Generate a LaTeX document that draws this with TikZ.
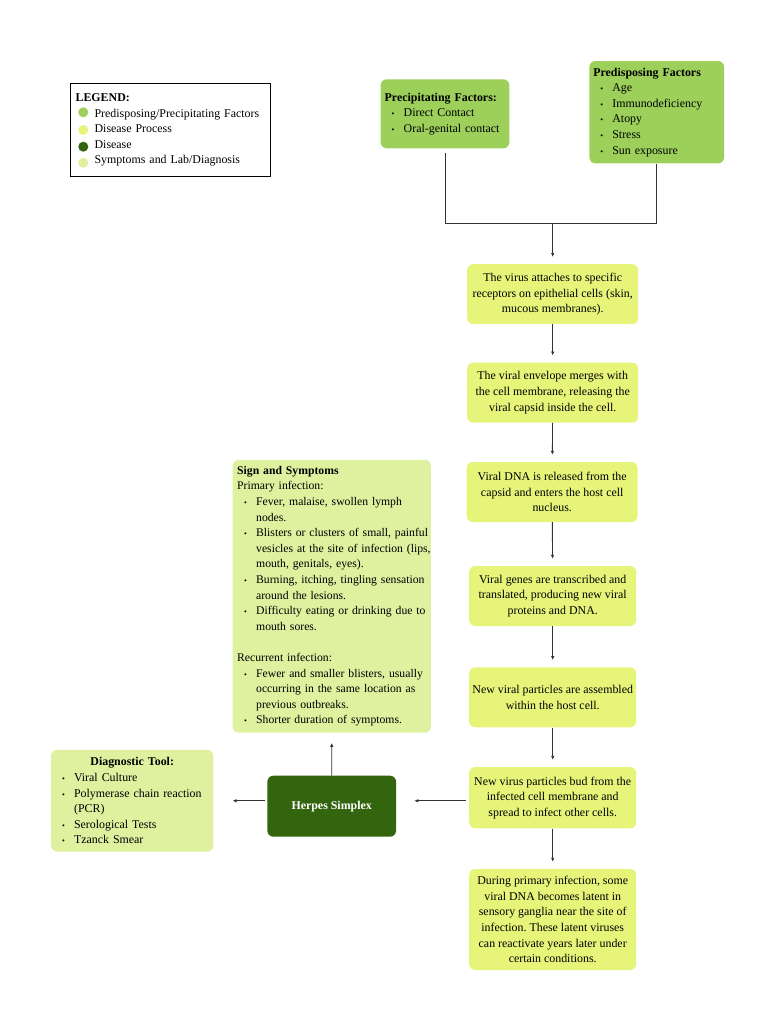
\documentclass[tikz,border=0pt]{standalone}
\usepackage{fontspec}
\setmainfont{Liberation Serif}
\usetikzlibrary{arrows.meta}
\setlength{\parindent}{0pt}
\frenchspacing
\definecolor{factgreen}{RGB}{157,207,91}
\definecolor{procyellow}{RGB}{230,245,122}
\definecolor{symgreen}{RGB}{223,240,158}
\definecolor{hsvgreen}{RGB}{51,100,14}
\newcommand{\boxfont}{\fontsize{11.9}{15.6}\selectfont}
\newcommand{\bulletmark}{{\fontsize{8}{8}\selectfont\textbullet}}
\newcommand{\bitem}[1]{\par\hangindent=19pt\hangafter=1\noindent\hspace*{7pt}\makebox[12pt][l]{\bulletmark}#1}
\newcommand{\legitem}[1]{\par\noindent\hspace*{19pt}#1}
\newcommand{\keeplines}{\rightskip=0pt plus 1fil minus 40pt\relax\hyphenpenalty=10000\relax}

\begin{document}
\begin{tikzpicture}[x=1pt,y=-1pt,
  box/.style={rounded corners=6pt,inner sep=0pt,font=\boxfont},
  procbox/.style={box,fill=procyellow,align=center,minimum width=167pt,minimum height=60pt},
  listbox/.style={box,align=left,inner xsep=4pt},
  legdot/.style={circle,inner sep=0pt,minimum size=10pt},
  link/.style={line width=0.9pt,draw=black!80},
  flow/.style={link,-{Latex[length=4pt,width=3.5pt]},shorten >=7pt}]
% page
\fill[white] (0,0) rectangle (768,1024);
\useasboundingbox (0,0) rectangle (768,1024);

% Legende
\node[listbox,draw=black,line width=1pt,rounded corners=0pt,inner xsep=5.3pt,
      text width=189.4pt,minimum height=93.4pt] (legend) at (170.3,130) {%
  \textbf{LEGEND:}
  \legitem{Predisposing/Precipitating Factors}
  \legitem{Disease Process}
  \legitem{Disease}
  \legitem{Symptoms and Lab/Diagnosis}};
\node[legdot,fill=factgreen] (dfact) at (83.3,112.3) {};
\node[legdot,fill=procyellow] (dproc) at (83.3,130) {};
\node[legdot,fill=hsvgreen] (ddis) at (83.3,146.7) {};
\node[legdot,fill=symgreen] (dsym) at (83.3,162.7) {};

% Facteurs
\node[listbox,fill=factgreen,text width=120.6pt,minimum height=69pt] (prec) at (445,113.8) {%
  \keeplines\textbf{Precipitating Factors:}
  \bitem{Direct Contact}
  \bitem{Oral-genital contact}};
\node[listbox,fill=factgreen,text width=126.7pt,minimum height=102.3pt] (pred) at (656.7,112.2) {%
  \keeplines\textbf{Predisposing Factors}
  \bitem{Age}
  \bitem{Immunodeficiency}
  \bitem{Atopy}
  \bitem{Stress}
  \bitem{Sun exposure}};

% Processus
\node[procbox,minimum width=171pt] (b1) at (552.7,294.2) {The virus attaches to specific\\receptors on epithelial cells (skin,\\mucous membranes).};
\node[procbox,minimum width=171pt] (b2) at (552.7,392.7) {The viral envelope merges with\\the cell membrane, releasing the\\viral capsid inside the cell.};
\node[procbox,minimum width=171pt] (b3) at (552.2,492) {Viral DNA is released from the\\capsid and enters the host cell\\nucleus.};
\node[procbox] (b4) at (552.7,596) {Viral genes are transcribed and\\translated, producing new viral\\proteins and DNA.};
\node[procbox] (b5) at (552.7,697.3) {New viral particles are assembled\\within the host cell.};
\node[procbox,minimum height=61.3pt] (b6) at (552.7,797.7) {New virus particles bud from the\\infected cell membrane and\\spread to infect other cells.};
\node[procbox,minimum height=101pt] (b7) at (552.7,919.5) {During primary infection, some\\viral DNA becomes latent in\\sensory ganglia near the site of\\infection. These latent viruses\\can reactivate years later under\\certain conditions.};

% Maladie
\node[box,fill=hsvgreen,text=white,font=\boxfont\bfseries,minimum width=128.7pt,minimum height=61pt] (herpes) at (331.7,806.2) {Herpes Simplex};
\node[listbox,fill=symgreen,font=\fontsize{11.7}{15.6}\selectfont,inner xsep=4.5pt,text width=189.3pt,minimum height=272.7pt] (symp) at (331.8,596.3) {%
  \keeplines\textbf{Sign and Symptoms}\par
  Primary infection:
  \bitem{Fever, malaise, swollen lymph\newline nodes.}
  \bitem{Blisters or clusters of small, painful\newline vesicles at the site of infection (lips,\newline mouth, genitals, eyes).}
  \bitem{Burning, itching, tingling sensation\newline around the lesions.}
  \bitem{Difficulty eating or drinking due to\newline mouth sores.}
  \par\vspace{15.6pt}
  Recurrent infection:
  \bitem{Fewer and smaller blisters, usually\newline occurring in the same location as\newline previous outbreaks.}
  \bitem{Shorter duration of symptoms.}};
\node[listbox,fill=symgreen,text width=154.3pt,minimum height=101.7pt] (diag) at (132.2,800.8) {%
  \keeplines{\centering\textbf{Diagnostic Tool:}\par}
  \bitem{Viral Culture}
  \bitem{Polymerase chain reaction\newline (PCR)}
  \bitem{Serological Tests}
  \bitem{Tzanck Smear}};

% fleches
\coordinate (fork) at (552.7,223.3);
\draw[link] ([yshift=-4.5pt]prec.south) |- (fork) -| ([yshift=-0.5pt]pred.south);
\draw[flow] (fork) -- (b1);
\draw[flow] (b1) -- (b2);
\draw[flow] (b2) -- (b3);
\draw[flow] (b3) -- (b4);
\draw[flow] (b4) -- (b5);
\draw[flow] (b5) -- (b6);
\draw[flow] (b6) -- (b7);
\draw[flow,shorten <=3.5pt,shorten >=18pt] (b6.west |- diag.east) -- (herpes.east |- diag.east);
\draw[flow,shorten <=2.5pt,shorten >=19pt] (herpes.west |- diag.east) -- (diag.east);
\draw[flow,shorten >=10pt] (herpes.north) -- (symp.south);
\end{tikzpicture}
\end{document}
